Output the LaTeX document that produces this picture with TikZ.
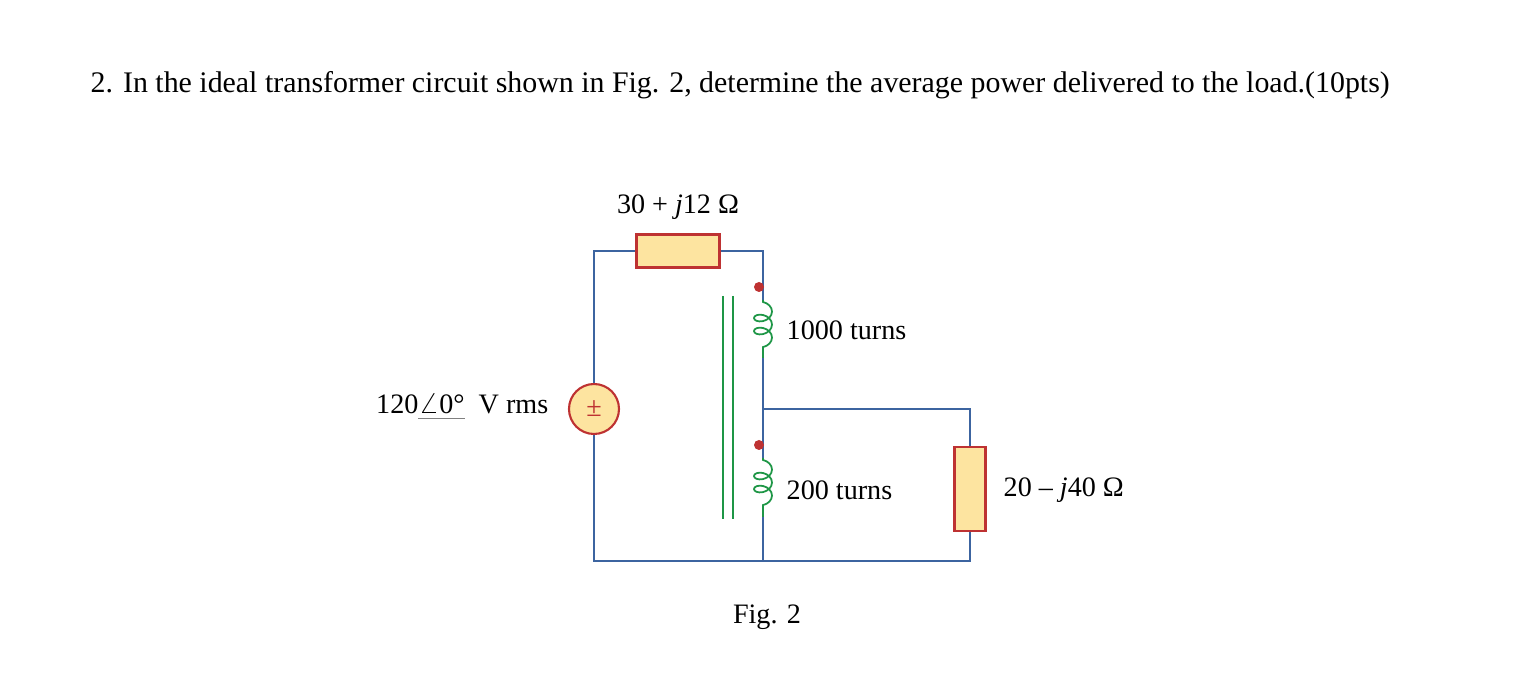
\documentclass[tikz,border=0pt]{standalone}
\usepackage{fontspec}
\setmainfont{Liberation Serif}
\usetikzlibrary{decorations.pathmorphing}
\definecolor{wirec}{RGB}{60,100,160}
\definecolor{redc}{RGB}{190,50,50}
\definecolor{fillc}{RGB}{253,228,160}
\definecolor{greenc}{RGB}{30,150,70}
\begin{document}
\begin{tikzpicture}[x=0.01cm,y=-0.01cm,
  wire/.style={draw=wirec,line width=0.5pt},
  res/.style={draw=redc,fill=fillc,line width=0.6pt},
  coilst/.style={draw=greenc,line width=0.5pt,decorate,decoration={coil,aspect=0.7,segment length=13*0.01cm,amplitude=9*0.01cm,pre length=2*0.01cm,post length=2*0.01cm}},
  lbl/.style={font=\fontsize{8pt}{9pt}\selectfont,inner sep=0pt}]
\useasboundingbox (0,0) rectangle (1536,680);
\node[inner sep=0pt,anchor=base west,font=\fontsize{8.5pt}{10pt}\selectfont] (title) at (90,93) {2. In the ideal transformer circuit shown in Fig. 2, determine the average power delivered to the load.(10pts)};
\coordinate (tl) at (594,251); \coordinate (tr) at (763,251);
\coordinate (bl) at (594,561); \coordinate (bm) at (763,561); \coordinate (br) at (970,561);
\coordinate (mm) at (763,409); \coordinate (mr) at (970,409);
\coordinate (c1a) at (763,300); \coordinate (c1b) at (763,358);
\coordinate (c2a) at (763,458); \coordinate (c2b) at (763,517);
\node[res,minimum width=83*0.01cm,minimum height=33*0.01cm,inner sep=0pt] (R1) at (678,251) {};
\node[res,minimum width=31*0.01cm,minimum height=84*0.01cm,inner sep=0pt] (RL) at (970,489) {};
\node[circle,draw=redc,fill=fillc,minimum size=50*0.01cm,inner sep=0pt,line width=0.6pt,text=redc,font=\fontsize{8pt}{8pt}\selectfont] (V) at (594,409) {±};
\draw[wire] (V.north) -- (tl) -- (R1.west) (R1.east) -- (tr) -- (c1a);
\draw[wire] (c1b) -- (c2a) (c2b) -- (bm);
\draw[wire] (V.south) -- (bl) -- (bm) -- (br) -- (RL.south) (RL.north) -- (mr) -- (mm);
\draw[coilst] (c1a) -- (c1b);
\draw[coilst] (c2a) -- (c2b);
\draw[greenc,line width=0.5pt] (723,296) -- (723,519) (733,296) -- (733,519);
\fill[redc] (759,287) circle (5*0.01cm) (759,445) circle (5*0.01cm);
\node[lbl] (l1) at (678,207) {30 + \textit{j}12 Ω};
\node[lbl,anchor=west] (l2) at (786,330) {1000 turns};
\node[lbl,anchor=west] (l3) at (786,490) {200 turns};
\node[lbl,anchor=west] (l4) at (1003,490) {20 – \textit{j}40 Ω};
\node[lbl,anchor=east] (l5) at (549,407) {120{\color{gray}\underline{\color{black}$\angle$0°}}\ \ V rms};
\node[lbl,font=\fontsize{8pt}{10pt}\selectfont] (fig) at (767,617) {Fig. 2};
\end{tikzpicture}
\end{document}
